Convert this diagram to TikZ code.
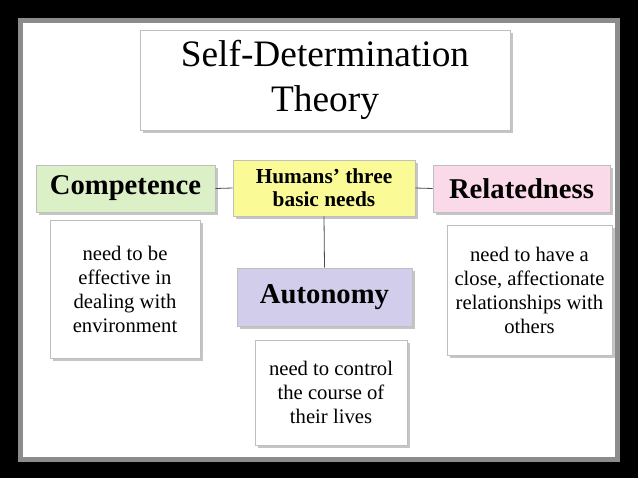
\documentclass[tikz,border=0pt]{standalone}
\usepackage{fontspec}
\setmainfont{Liberation Serif}
\usetikzlibrary{shadows}
\begin{document}
\begin{tikzpicture}[x=0.75pt,y=-0.75pt,
  box/.style={draw=black!25,line width=0.4pt,drop shadow={opacity=0.45,shadow xshift=2pt,shadow yshift=-2pt},inner sep=0pt},
  lbl/.style={font=\bfseries\fontsize{21.5}{24}\selectfont},
  desc/.style={font=\fontsize{15.5}{18}\selectfont,align=center},
  conn/.style={draw=black!70,line width=0.6pt}]
\fill[black] (0,0) rectangle (638,478);
\fill[black!45] (18,18) rectangle (620,462);
\fill[white] (23,23) rectangle (615,457);
\node[box,fill=white,minimum width=370*0.75pt,minimum height=100*0.75pt,font=\fontsize{28}{34}\selectfont,align=center] (title) at (325,80) {Self-Determination\\Theory};
\node[box,fill={rgb,255:red,220;green,240;blue,200},minimum width=179*0.75pt,minimum height=47*0.75pt,lbl] (comp) at (125.5,188.5) {Competence};
\node[box,fill={rgb,255:red,250;green,250;blue,150},minimum width=182*0.75pt,minimum height=56*0.75pt,font=\bfseries\fontsize{16}{17}\selectfont,align=center] (core) at (324,188) {Humans\symbol{39} three\\basic needs};
\node[box,fill={rgb,255:red,250;green,218;blue,232},minimum width=177*0.75pt,minimum height=47*0.75pt,lbl] (rel) at (521.5,188.5) {Relatedness};
\node[box,fill={rgb,255:red,210;green,205;blue,235},minimum width=175*0.75pt,minimum height=58*0.75pt,lbl] (aut) at (324.5,297) {Autonomy};
\node[box,fill=white,minimum width=150*0.75pt,minimum height=138*0.75pt,desc] (compd) at (125,289) {need to be\\effective in\\dealing with\\environment};
\node[box,fill=white,minimum width=165*0.75pt,minimum height=130*0.75pt,desc] (reld) at (529.5,290) {need to have a\\close, affectionate\\relationships with\\others};
\node[box,fill=white,minimum width=152*0.75pt,minimum height=105*0.75pt,desc] (autd) at (331,392.5) {need to control\\the course of\\their lives};
\draw[conn] (comp.east) -- (core.west);
\draw[conn] (core.east) -- (rel.west);
\draw[conn] (core.south) -- (aut.north);
\end{tikzpicture}
\end{document}
